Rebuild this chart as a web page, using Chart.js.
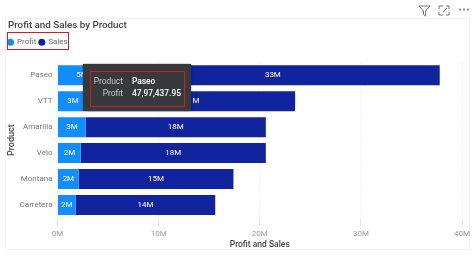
<!DOCTYPE html>
<html>
<head>
<meta charset="utf-8">
<style>
  html, body { margin: 0; padding: 0; background: #fff; }
  #wrap { position: relative; width: 474px; height: 259px; overflow: hidden; font-family: Roboto, sans-serif; filter: blur(0.3px); }
  #myChart { position: absolute; left: 0; top: 0; }
  #card { position: absolute; left: 5px; top: 18px; width: 465px; height: 232px; border: 1px solid #f0f0f0; box-sizing: border-box; }
  #tip { position: absolute; left: 83px; top: 64px; width: 108px; height: 47px; background: #37393b; box-shadow: 0 0 2px rgba(0,0,0,.4); color: #fff; font-size: 8.4px; line-height: 12px; }
  #tip div { position: absolute; white-space: nowrap; }
  .k { right: 68px; color: #c8c8c8; }
  .v { left: 49px; font-weight: 500; }
  .red { position: absolute; border: 1.5px solid #c8202a; box-sizing: border-box; }
  #icons { position: absolute; left: 0; top: 0; }
</style>
</head>
<body>
<div id="wrap">
  <div id="card"></div>
  <canvas id="myChart" width="474" height="259"></canvas>
  <div id="tip">
    <div class="k" style="top:11px">Product</div><div class="v" style="top:11px" id="tipName"></div>
    <div class="k" style="top:23px">Profit</div><div class="v" style="top:23px" id="tipValue"></div>
  </div>
  <div class="red" style="left:7px;top:32px;width:62px;height:18px"></div>
  <div class="red" style="left:90px;top:71px;width:95px;height:36px"></div>
  <svg id="icons" width="474" height="30" fill="none" stroke="#777" stroke-width="1">
    <path d="M419 6h11l-4.500 5v5l-2 -1.500v-3.500z"/>
    <path d="M439 9v-3h4M446 6h3v3M449 12v3h-3M443 15h-4v-3M443 12l4 -4"/>
    <g fill="#777" stroke="none"><circle cx="460" cy="9.500" r="1"/><circle cx="464" cy="9.500" r="1"/><circle cx="468" cy="9.500" r="1"/></g>
  </svg>
</div>
<script src="https://cdn.jsdelivr.net/npm/chart.js@4"></script>
<script>
var products = ['Paseo', 'VTT', 'Amarilla', 'Velo', 'Montana', 'Carretera'];
var profit = [4797437.95, 3000000, 2800000, 2300000, 2100000, 1800000];
var sales = [33000000, 20500000, 17800000, 18300000, 15300000, 13800000];
var xTicks = [0, 10000000, 20000000, 30000000, 40000000];
var tipName = 'Paseo';
var tipValue = '47,97,437.95';

document.getElementById('tipName').textContent = tipName;
document.getElementById('tipValue').textContent = tipValue;

var fontName = 'Roboto, sans-serif';

// white value labels in the middle of each bar
var barLabels = {
  id: 'barLabels',
  afterDatasetsDraw: function (chart) {
    var c = chart.ctx;
    c.save();
    c.fillStyle = '#fff';
    c.font = '8px ' + fontName;
    c.textAlign = 'center';
    c.textBaseline = 'middle';
    chart.data.datasets.forEach(function (ds, i) {
      chart.getDatasetMeta(i).data.forEach(function (bar, j) {
        var p = bar.getProps(['x', 'y', 'base'], true);
        c.fillText(Math.round(ds.data[j] / 1000000) + 'M', (p.x + p.base) / 2, p.y);
      });
    });
    c.restore();
  }
};

// extra room under the legend, title a little to the right of it
var headerGap = {
  id: 'headerGap',
  beforeInit: function (chart) {
    var fit = chart.legend.fit;
    chart.legend.fit = function () {
      fit.call(this);
      this.height += 6;
    };
  },
  afterLayout: function (chart) {
    chart.titleBlock.left += 3;
  }
};

var ctx = document.getElementById('myChart').getContext('2d');
var myChart = new Chart(ctx, {
  type: 'bar',
  data: {
    labels: products,
    datasets: [
      { label: 'Profit', data: profit, backgroundColor: '#118DFF', barPercentage: 0.77, categoryPercentage: 1 },
      { label: 'Sales', data: sales, backgroundColor: '#12239E', barPercentage: 0.77, categoryPercentage: 1 }
    ]
  },
  options: {
    indexAxis: 'y',
    responsive: false,
    animation: false,
    events: [],
    layout: { padding: { left: 5, right: 12, top: 19.5, bottom: 9 } },
    plugins: {
      tooltip: { enabled: false },
      title: {
        display: true,
        text: 'Profit and Sales by Product',
        align: 'start',
        color: '#444',
        font: { family: fontName, size: 9.8, weight: '500' },
        padding: { top: 0, bottom: 4 }
      },
      legend: {
        display: true,
        align: 'start',
        labels: {
          usePointStyle: true,
          pointStyle: 'circle',
          boxWidth: 5,
          boxHeight: 5,
          padding: 3,
          color: '#666',
          font: { family: fontName, size: 8 }
        }
      }
    },
    scales: {
      x: {
        stacked: true,
        min: 0,
        max: 40000000,
        afterBuildTicks: function (axis) {
          axis.ticks = xTicks.map(function (v) { return { value: v }; });
        },
        afterFit: function (axis) { axis.height = 32; },
        ticks: {
          color: '#999',
          padding: 3,
          maxRotation: 0,
          font: { family: fontName, size: 8 },
          callback: function (v) { return v / 1000000 + 'M'; }
        },
        grid: { color: '#e4e4e4', tickLength: 8, tickColor: '#e4e4e4' },
        border: { display: false, dash: [1, 2] },
        title: {
          display: true,
          text: 'Profit and Sales',
          color: '#444',
          padding: { top: 1, bottom: 0 },
          font: { family: fontName, size: 8.5, weight: '500' }
        }
      },
      y: {
        stacked: true,
        afterFit: function (axis) { axis.width = 52.5; },
        ticks: {
          color: '#777',
          padding: 5,
          font: { family: fontName, size: 8 }
        },
        grid: { display: false, tickLength: 0 },
        border: { display: false },
        title: {
          display: true,
          text: 'Product',
          color: '#444',
          padding: 1,
          font: { family: fontName, size: 9, weight: '500' }
        }
      }
    }
  },
  plugins: [barLabels, headerGap]
});
</script>
</body>
</html>
